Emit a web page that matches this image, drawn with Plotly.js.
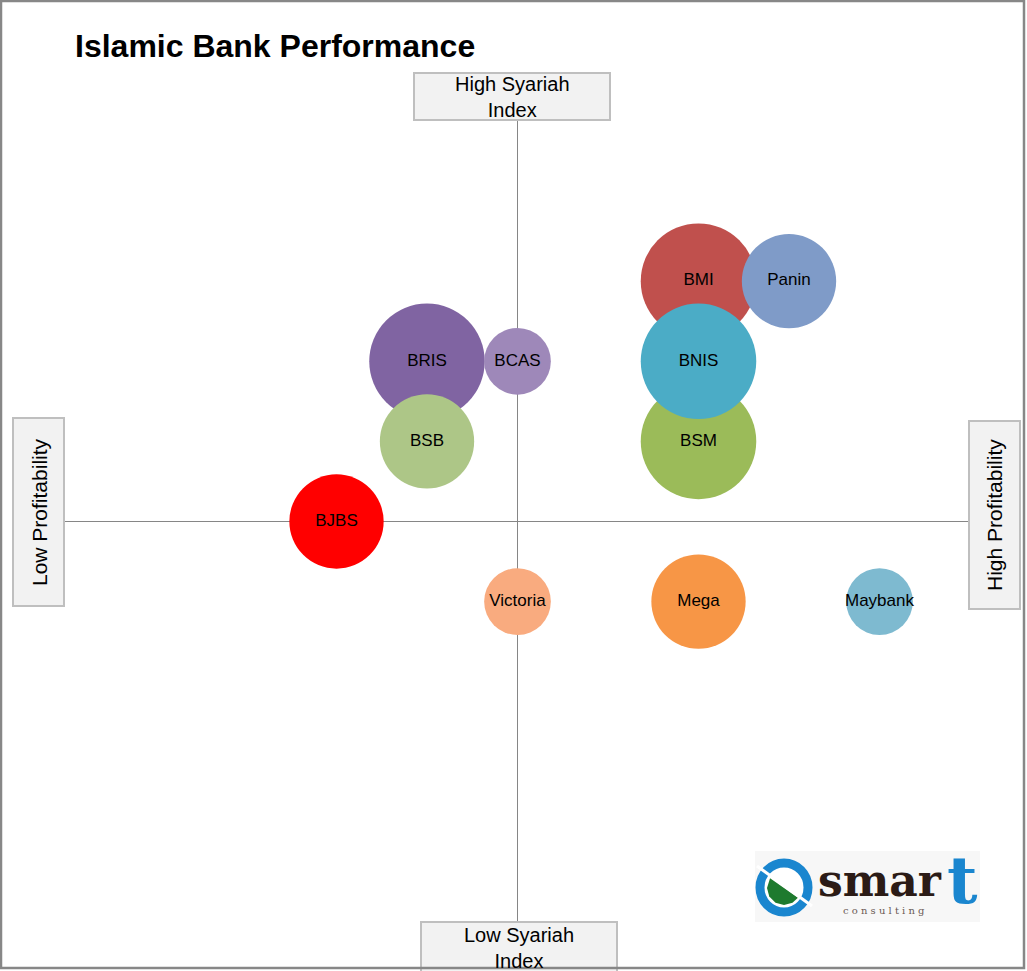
<!DOCTYPE html>
<html>
<head>
<meta charset="utf-8">
<script src="https://cdn.plot.ly/plotly-3.0.1.min.js"></script>
<style>html,body{margin:0;padding:0;background:#fff;}#chart{width:1027px;height:971px;}</style>
</head>
<body>
<div id="chart"></div>
<script>
// Data
const banks = ["BMI","BSM","BRIS","BJBS","Mega","Panin","BNIS","BSB","BCAS","Victoria","Maybank"];
const profitability = [2, 2, -1, -2, 2, 3, 2, -1, 0, 0, 4];
const syariahIndex = [3, 1, 2, 0, -1, 3, 2, 1, 2, -1, -1];
const bubbleSize = [3, 3, 3, 2, 2, 2, 3, 2, 1, 1, 1];
const colors = ["#C0504D","#9BBB59","#8064A2","#FF0000","#F79646","#7F9BC8","#4BACC6","#ADC687","#9E88B9","#F9AB7F","#7EBAD0"];
const titleText = "Islamic Bank Performance";
const quadrantLabels = {
  top: "High Syariah<br>Index",
  bottom: "Low Syariah<br>Index",
  left: "Low Profitability",
  right: "High Profitability"
};

// pixel -> paper helpers (plot area)
const L = 65, R = 970, T = 121, B = 922;
const px = v => (v - L) / (R - L);
const py = v => (B - v) / (B - T);

const maxDiam = 115.5;
const trace = {
  type: "scatter",
  mode: "markers+text",
  x: profitability,
  y: syariahIndex,
  text: banks,
  textposition: "middle center",
  textfont: {family: "Liberation Sans, Arial, sans-serif", size: 17, color: "#000"},
  marker: {
    size: bubbleSize,
    sizemode: "area",
    sizeref: 2 * Math.max(...bubbleSize) / (maxDiam * maxDiam),
    color: colors,
    opacity: 1,
    line: {width: 0}
  },
  hoverinfo: "none",
  cliponaxis: false
};

// logo green half-disc points (decoration)
const gcx = 784, gcy = 888, gr = 17;
let gpath = "";
[35, 60, 90, 120, 150, 180, 215].forEach((a, i) => {
  const r = a * Math.PI / 180;
  const X = px(gcx + gr * Math.cos(r)), Y = py(gcy + gr * Math.sin(r));
  gpath += (i === 0 ? "M " : " L ") + X + " " + Y;
});
gpath += " Z";

const boxStyle = {type: "rect", xref: "paper", yref: "paper", fillcolor: "#F2F2F2", line: {color: "#BFBFBF", width: 2}, layer: "above"};
const shapes = [
  Object.assign({}, boxStyle, {x0: px(414), x1: px(610), y0: py(120), y1: py(73)}),
  Object.assign({}, boxStyle, {x0: px(421), x1: px(617), y0: py(980), y1: py(922)}),
  Object.assign({}, boxStyle, {x0: px(13), x1: px(64), y0: py(606), y1: py(418)}),
  Object.assign({}, boxStyle, {x0: px(969), x1: px(1020), y0: py(609), y1: py(421)}),
  // logo background
  {type: "rect", xref: "paper", yref: "paper", x0: px(755), x1: px(980), y0: py(922), y1: py(851), fillcolor: "#F7F7F7", line: {width: 0}, layer: "above"},
  // logo ring
  {type: "circle", xref: "paper", yref: "paper", x0: px(760), x1: px(808), y0: py(912), y1: py(863), fillcolor: "#FFFFFF", line: {color: "#1A86CF", width: 9}, layer: "above"},
  {type: "path", xref: "paper", yref: "paper", path: gpath, fillcolor: "#1E7A2E", line: {width: 0}, layer: "above"},
  {type: "line", xref: "paper", yref: "paper", x0: px(757), x1: px(812), y0: py(866), y1: py(906), line: {color: "#FFFFFF", width: 3}, layer: "above"},
  // outer border
  {type: "rect", xref: "paper", yref: "paper", x0: px(1), x1: px(1024), y0: py(968), y1: py(1), fillcolor: "rgba(0,0,0,0)", line: {color: "#878787", width: 2.5}, layer: "above"}
];

const labelFont = {family: "Liberation Sans, Arial, sans-serif", size: 20, color: "#000"};
const sideFont = {family: "Liberation Sans, Arial, sans-serif", size: 21, color: "#000"};
const annotations = [
  {xref: "paper", yref: "paper", x: px(73), y: py(46), xanchor: "left", yanchor: "middle", showarrow: false,
   text: "<b>" + titleText + "</b>", font: {family: "Liberation Sans, Arial, sans-serif", size: 32, color: "#000"}},
  {xref: "paper", yref: "paper", x: px(512), y: py(97), xanchor: "center", yanchor: "middle", showarrow: false,
   text: quadrantLabels.top, font: labelFont},
  {xref: "paper", yref: "paper", x: px(519), y: py(948), xanchor: "center", yanchor: "middle", showarrow: false,
   text: quadrantLabels.bottom, font: labelFont},
  {xref: "paper", yref: "paper", x: px(39), y: py(512), xanchor: "center", yanchor: "middle", showarrow: false,
   text: quadrantLabels.left, textangle: -90, font: sideFont},
  {xref: "paper", yref: "paper", x: px(994), y: py(515), xanchor: "center", yanchor: "middle", showarrow: false,
   text: quadrantLabels.right, textangle: -90, font: sideFont},
  // logo text
  {xref: "paper", yref: "paper", x: px(816), y: py(880), xanchor: "left", yanchor: "middle", showarrow: false,
   text: "<b>smar</b>", height: 34, font: {family: "DejaVu Serif, serif", size: 44, color: "#2B1B16"}},
  {xref: "paper", yref: "paper", x: px(945), y: py(880), xanchor: "left", yanchor: "middle", showarrow: false,
   text: "<b>t</b>", font: {family: "DejaVu Serif, serif", size: 66, color: "#1A86CF"}},
  {xref: "paper", yref: "paper", x: px(884), y: py(910), xanchor: "center", yanchor: "middle", showarrow: false,
   text: "c o n s u l t i n g", font: {family: "DejaVu Serif, serif", size: 10, color: "#6B5A55"}}
];

const axisBase = {
  range: [-5, 5], showgrid: false, zeroline: true, zerolinecolor: "#868686", zerolinewidth: 1,
  showticklabels: false, ticks: "", showline: false, fixedrange: true
};

const layout = {
  width: 1027, height: 971,
  margin: {l: L, r: 1027 - R, t: T, b: 971 - B, pad: 0},
  paper_bgcolor: "#FFFFFF", plot_bgcolor: "#FFFFFF",
  showlegend: false,
  xaxis: Object.assign({}, axisBase),
  yaxis: Object.assign({}, axisBase),
  shapes: shapes,
  annotations: annotations
};

Plotly.newPlot("chart", [trace], layout, {displayModeBar: false, staticPlot: true});
</script>
</body>
</html>
